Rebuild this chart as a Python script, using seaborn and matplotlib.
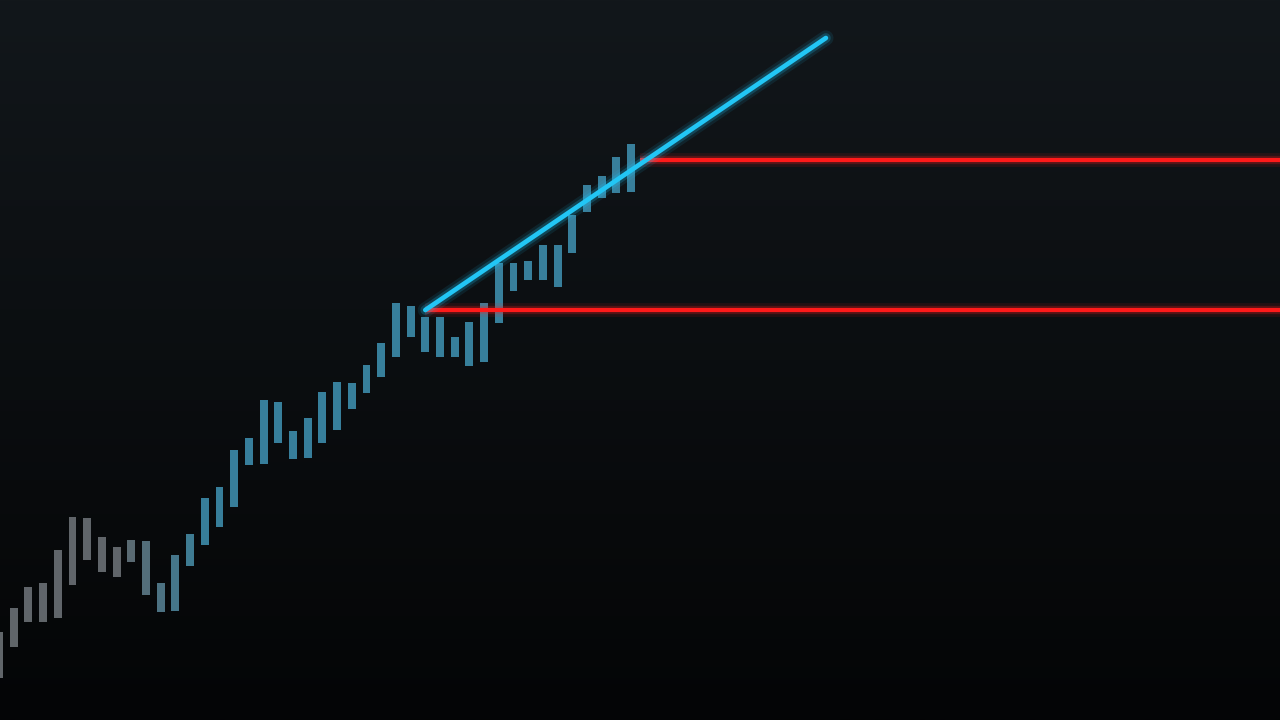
import numpy as np
import pandas as pd
import matplotlib
matplotlib.use("Agg")
import matplotlib.pyplot as plt
import seaborn as sns

# bar index (one bar per session) and price range of each bar
bar_index = list(range(44))
bar_high = [88, 112, 133, 137, 170, 203, 202, 183, 173, 180, 179, 137, 165, 186,
            222, 233, 270, 282, 320, 318, 289, 302, 328, 338, 337, 355, 377, 417,
            414, 403, 403, 383, 398, 417, 457, 457, 459, 475, 475, 505, 535, 544,
            563, 576]
bar_low = [42, 73, 98, 98, 102, 135, 160, 148, 143, 158, 125, 108, 109, 154,
           175, 193, 213, 255, 256, 277, 261, 262, 277, 290, 311, 327, 343, 363,
           383, 368, 363, 363, 354, 358, 397, 429, 440, 440, 433, 467, 508, 522,
           527, 528]

# trend line and the two horizontal levels
trend_x = [29.0, 56.25]
trend_y = [410, 682]
level_upper = 560
level_upper_start = 43.6
level_lower = 410
level_lower_start = 29.0


def main():
    sns.set_theme(style="dark")
    df = pd.DataFrame({"idx": bar_index, "high": bar_high, "low": bar_low})

    fig = plt.figure(figsize=(12.8, 7.2), dpi=100)
    ax = fig.add_axes([0, 0, 1, 1])

    # dark vertical gradient background
    grad = np.linspace(0, 1, 256).reshape(-1, 1)
    top = np.array([18, 23, 27]) / 255
    bottom = np.array([4, 5, 6]) / 255
    img = top * (1 - grad)[..., None] + bottom * grad[..., None]
    img = img.reshape(256, 1, 3)
    ax.imshow(img, extent=[0, 1, 0, 1], transform=ax.transAxes,
              aspect="auto", zorder=0)

    # bar colours fade from grey to blue
    gray = np.array([0.42, 0.44, 0.46])
    blue = np.array([0.24, 0.55, 0.67])
    t = np.clip((df["idx"] - 8) / 6, 0, 1).to_numpy()
    colors = [tuple(gray * (1 - v) + blue * v) for v in t]
    ax.bar(df["idx"], df["high"] - df["low"], bottom=df["low"], width=0.54,
           color=colors, alpha=0.9, zorder=2, linewidth=0)

    # red levels with a soft glow
    x_end = 87.5
    for y0, x0 in [(level_upper, level_upper_start), (level_lower, level_lower_start)]:
        for lw, a in [(10, 0.10), (6, 0.22)]:
            ax.plot([x0, x_end], [y0, y0], color="#ff2020", lw=lw, alpha=a,
                    solid_capstyle="butt", zorder=3)
        ax.plot([x0, x_end], [y0, y0], color="#ff1a1a", lw=3.0,
                solid_capstyle="butt", zorder=4)

    # cyan trend line with glow
    trend = pd.DataFrame({"x": trend_x, "y": trend_y})
    for lw, a in [(11, 0.10), (7, 0.22)]:
        sns.lineplot(data=trend, x="x", y="y", ax=ax, color="#1ec3f5",
                     lw=lw, alpha=a, zorder=5, legend=False)
    sns.lineplot(data=trend, x="x", y="y", ax=ax, color="#22c6f5", lw=3.4,
                 zorder=6, legend=False)
    ax.set_xlim(0.068, 87.14)
    ax.set_ylim(0, 720)
    ax.axis("off")

    fig.savefig("out.png", dpi=100, facecolor="#0b0e10")


if __name__ == "__main__":
    main()
